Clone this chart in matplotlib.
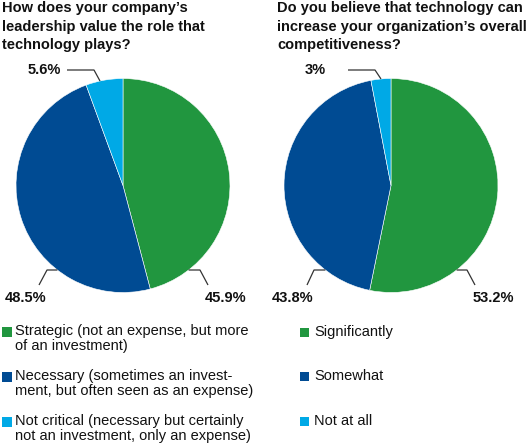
import numpy as np
import matplotlib.pyplot as plt
from matplotlib.patches import Rectangle

plt.rcParams['font.family'] = ['Liberation Sans', 'DejaVu Sans']

# data
colors = ['#21963f', '#004b93', '#00a9e6']

left_title = "How does your company\u2019s\nleadership value the role that\ntechnology plays?"
left_vals = [45.9, 48.5, 5.6]
left_labels = ['45.9%', '48.5%', '5.6%']
left_legend = ["Strategic (not an expense, but more\nof an investment)",
               "Necessary (sometimes an invest-\nment, but often seen as an expense)",
               "Not critical (necessary but certainly\nnot an investment, only an expense)"]

right_title = "Do you believe that technology can\nincrease your organization\u2019s overall\ncompetitiveness?"
right_vals = [53.2, 43.8, 3]
right_labels = ['53.2%', '43.8%', '3%']
right_legend = ["Significantly", "Somewhat", "Not at all"]

W, H = 530, 445
fig = plt.figure(figsize=(W / 100, H / 100), dpi=100)
ax = fig.add_axes([0, 0, 1, 1])
ax.axis('off')


def py(y):
    # pixel y (from top) -> data y
    return H - y


def edge_y(cx, cy, r, x):
    # top edge of the circle at x (pixel coords)
    return cy - np.sqrt(r ** 2 - (x - cx) ** 2)


def edge_x(cx, cy, r, y, side):
    return cx + side * np.sqrt(r ** 2 - (y - cy) ** 2)


def draw_pie(cx, cy, r, vals, labels, title, tx, lab_xy, hooks):
    ax.pie(vals, colors=colors, startangle=90, counterclock=False,
           center=(cx, py(cy)), radius=r, frame=True,
           wedgeprops=dict(edgecolor='white', linewidth=0.4))
    ax.text(tx, py(1), title, fontsize=10.5, fontweight='bold',
            va='top', ha='left', linespacing=1.42, color='#111111')
    # bottom right, bottom left, top
    (x0, x1), (x2, x3), (x4, x5) = hooks
    e0 = edge_x(cx, cy, r, 270, 1)
    e1 = edge_x(cx, cy, r, 270, -1)
    e2 = edge_y(cx, cy, r, x5)
    segs = [([x0, x1, e0], [285, 270, 270]),
            ([x2, x3, e1], [285, 270, 270]),
            ([x4, x5 - 6, x5], [70, 70, e2])]
    for xs, ys in segs:
        ax.plot(xs, [py(v) for v in ys], color='#333333', lw=0.9,
                solid_capstyle='butt')
    for lab, (lx, ly, side) in zip(labels, lab_xy):
        ax.text(lx, py(ly), lab, fontsize=10.5, fontweight='bold',
                ha=side, va='center', color='#111111')


draw_pie(123, 185.5, 107, left_vals, left_labels, left_title, 2,
         [(246, 297.5, 'right'), (5, 297.5, 'left'), (61, 70, 'right')],
         [(208, 200), (39, 47), (67, 100)])

draw_pie(391, 185.5, 107, right_vals, right_labels, right_title, 277,
         [(514, 297.5, 'right'), (272, 297.5, 'left'), (326, 70, 'right')],
         [(475, 467), (307, 314), (348, 381)])

# legends
for i, t in enumerate(left_legend):
    y0 = 332 + 45 * i
    ax.add_patch(Rectangle((2, py(y0 + 5)), 10, 10, color=colors[i], lw=0))
    ax.text(15, py(y0 - 8), t, fontsize=10.5, va='top', ha='left',
            linespacing=1.08, color='#111111')

for i, t in enumerate(right_legend):
    y0 = 332 + 44.5 * i
    ax.add_patch(Rectangle((300, py(y0 + 4.5)), 9, 9, color=colors[i], lw=0))
    ax.text(314, py(y0), t, fontsize=10.5, va='center', ha='left',
            color='#111111')

ax.set_xlim(0, W)
ax.set_ylim(0, H)
ax.set_aspect('equal')
fig.savefig('out.png', dpi=100)
